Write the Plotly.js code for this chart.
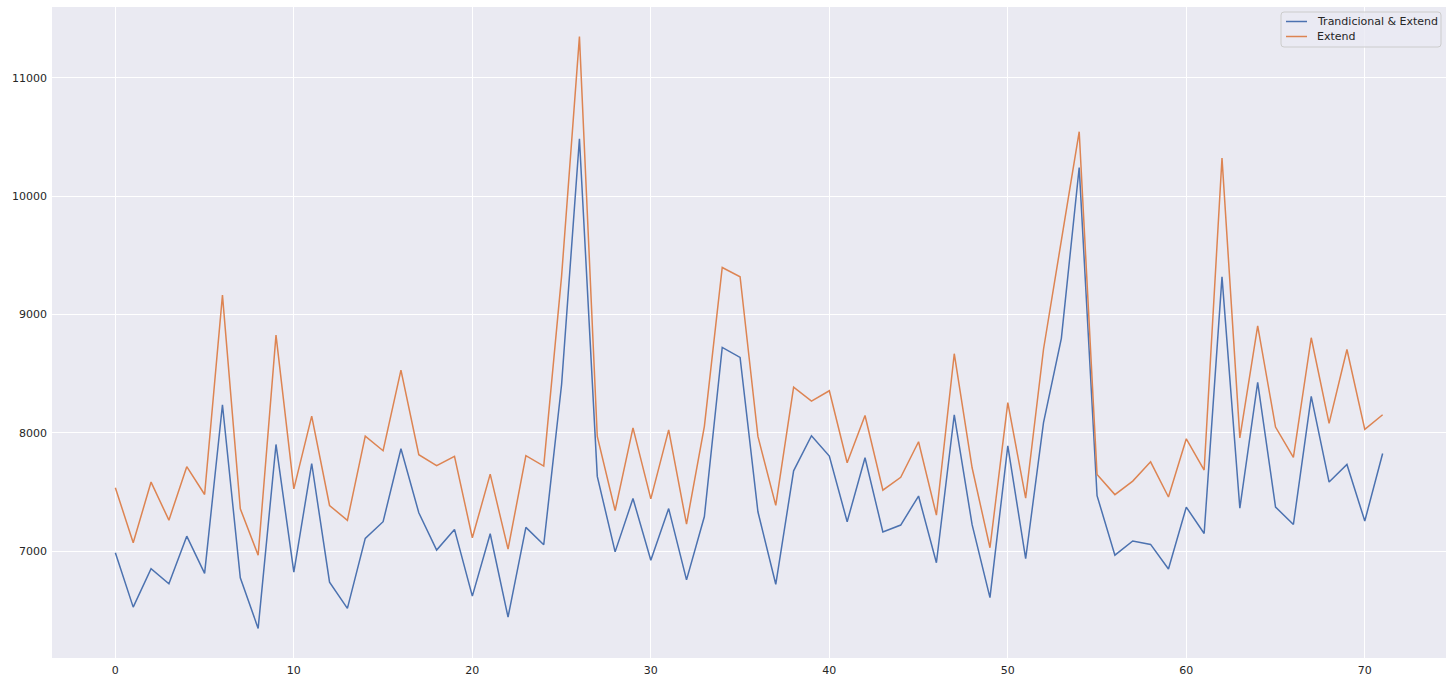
<!DOCTYPE html>
<html>
<head>
<meta charset="utf-8">
<script src="https://cdn.plot.ly/plotly-3.0.1.min.js"></script>
<style>html,body{margin:0;padding:0;background:#fff;}#chart{width:1453px;height:686px;}</style>
</head>
<body>
<div id="chart"></div>
<script>
const seriesNames = ["Trandicional & Extend", "Extend"];
const seriesColors = ['#4C72B0', '#DD8452'];

const tradicionalExtend = [
  6985, 6526, 6850, 6723, 7126, 6811, 8237, 6774, 6346, 7901,
  6822, 7740, 6737, 6515, 7107, 7248, 7865, 7324, 7008, 7183,
  6619, 7146, 6442, 7200, 7053, 8408, 10485, 7631, 6993, 7444,
  6922, 7359, 6756, 7292, 8722, 8637, 7332, 6719, 7678, 7975,
  7803, 7248, 7789, 7161, 7220, 7465, 6901, 8152, 7223, 6606,
  7890, 6935, 8086, 8798, 10242, 7468, 6965, 7085, 7056, 6848,
  7371, 7148, 9318, 7362, 8426, 7372, 7225, 8307, 7583, 7732,
  7254, 7825
];

const extend = [
  7535, 7070, 7583, 7261, 7713, 7478, 9163, 7357, 6965, 8825,
  7526, 8141, 7385, 7259, 7972, 7848, 8529, 7814, 7721, 7800,
  7112, 7650, 7016, 7806, 7718, 9324, 11349, 7969, 7342, 8041,
  7441, 8024, 7227, 8054, 9397, 9319, 7969, 7386, 8386, 8268,
  8355, 7746, 8146, 7515, 7623, 7924, 7304, 8668, 7704, 7028,
  8254, 7448, 8706, 9620, 10545, 7648, 7477, 7591, 7754, 7457,
  7949, 7685, 10322, 7957, 8903, 8048, 7792, 8803, 8079, 8704,
  8028, 8152
];

const xIndex = tradicionalExtend.map((_, i) => i);
const xTicks = [0, 10, 20, 30, 40, 50, 60, 70];
const yTicks = [7000, 8000, 9000, 10000, 11000];

const allY = tradicionalExtend.concat(extend);
const yMin = Math.min(...allY), yMax = Math.max(...allY);
const yPad = (yMax - yMin) * 0.05;
const xMin = 0, xMax = xIndex.length - 1;
const xPad = (xMax - xMin) * 0.05;

const traces = [
  {x: xIndex, y: tradicionalExtend, name: seriesNames[0], type: 'scatter', mode: 'lines',
   line: {color: seriesColors[0], width: 1.5}},
  {x: xIndex, y: extend, name: seriesNames[1], type: 'scatter', mode: 'lines',
   line: {color: seriesColors[1], width: 1.5}}
];

// plot area geometry (pixels) for the matplotlib-style legend box
const W = 1453, H = 686;
const M = {l: 52, r: 7, t: 7, b: 28};
const pw = W - M.l - M.r, ph = H - M.t - M.b;
const px = v => (v - M.l) / pw;
const py = v => (H - M.b - v) / ph;

function roundRect(x0, y0, x1, y1, r) {
  const a = px(x0), b = px(x1), c = py(y0), d = py(y1);
  const rx = r / pw, ry = r / ph;
  return `M ${a + rx} ${c} L ${b - rx} ${c} Q ${b} ${c} ${b} ${c - ry} ` +
         `L ${b} ${d + ry} Q ${b} ${d} ${b - rx} ${d} L ${a + rx} ${d} ` +
         `Q ${a} ${d} ${a} ${d + ry} L ${a} ${c - ry} Q ${a} ${c} ${a + rx} ${c} Z`;
}

const legendRows = [21.5, 36.5];
const shapes = [{
  type: 'path', xref: 'paper', yref: 'paper',
  path: roundRect(1281, 12, 1441, 47, 3),
  fillcolor: 'rgba(234,234,242,0.8)', line: {color: '#cccccc', width: 1}, layer: 'above'
}];
const annotations = [];
seriesNames.forEach((n, i) => {
  shapes.push({type: 'line', xref: 'paper', yref: 'paper',
    x0: px(1286), x1: px(1307), y0: py(legendRows[i]), y1: py(legendRows[i]),
    line: {color: seriesColors[i], width: 1.5}, layer: 'above'});
  annotations.push({xref: 'paper', yref: 'paper', x: px(1315), y: py(legendRows[i]),
    xanchor: 'left', yanchor: 'middle', text: n, showarrow: false,
    font: {size: 11, color: '#262626'}});
});

const layout = {
  width: W, height: H,
  margin: M,
  paper_bgcolor: '#ffffff',
  plot_bgcolor: '#EAEAF2',
  font: {family: 'DejaVu Sans, sans-serif', size: 11, color: '#262626'},
  showlegend: false,
  shapes: shapes,
  annotations: annotations,
  xaxis: {
    range: [xMin - xPad, xMax + xPad],
    tickvals: xTicks, ticktext: xTicks.map(String),
    showgrid: true, gridcolor: '#ffffff', gridwidth: 1,
    zeroline: false, showline: false, ticks: '', ticklabelstandoff: 4
  },
  yaxis: {
    range: [yMin - yPad, yMax + yPad],
    tickvals: yTicks, ticktext: yTicks.map(String),
    showgrid: true, gridcolor: '#ffffff', gridwidth: 1,
    zeroline: false, showline: false, ticks: '', ticklabelstandoff: 4
  }
};

Plotly.newPlot('chart', traces, layout, {displayModeBar: false, staticPlot: true});
</script>
</body>
</html>
